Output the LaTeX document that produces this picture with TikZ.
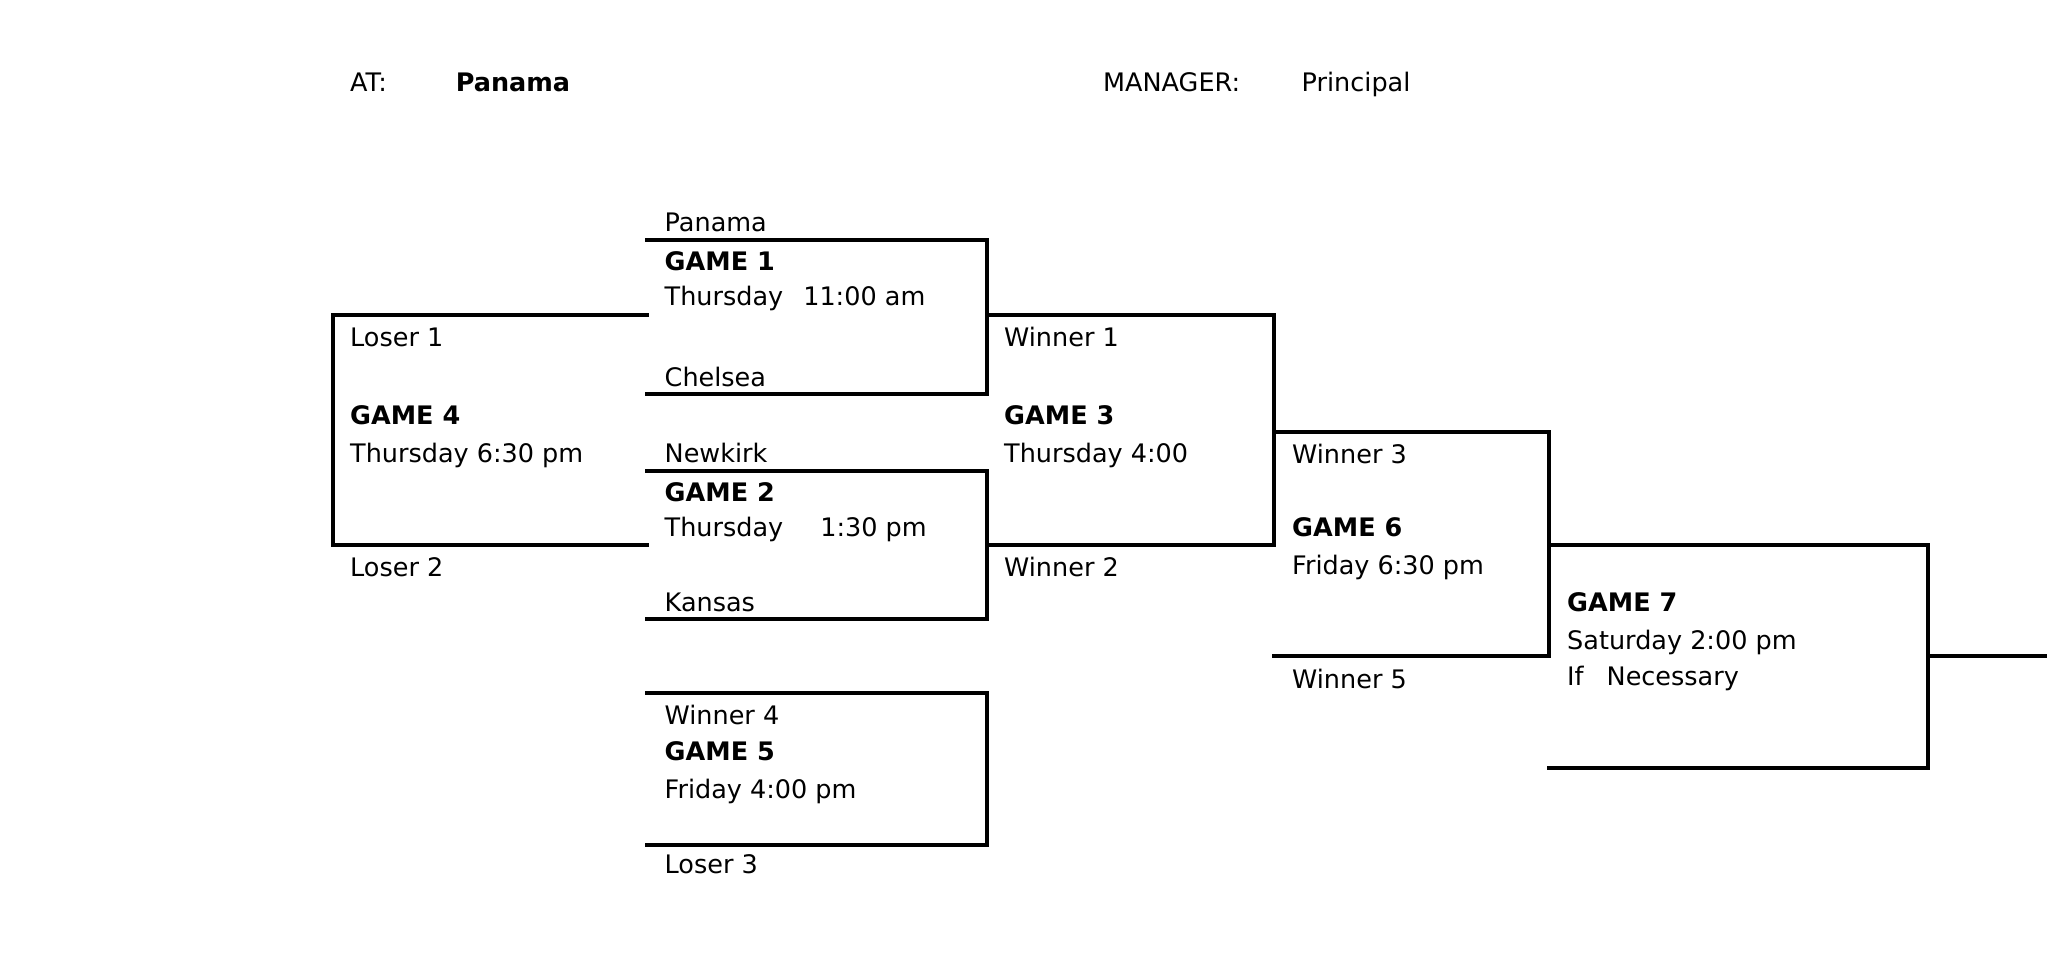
\documentclass[tikz,border=0pt]{standalone}
\usepackage{fontspec}
\setmainfont{DejaVu Sans}
\begin{document}
\begin{tikzpicture}[x=1pt,y=-1pt,
  lbl/.style={anchor=base west,inner sep=0pt,font=\fontsize{25.5}{30}\selectfont},
  ttl/.style={lbl,font=\fontsize{25.5}{30}\selectfont\bfseries},
  bracket/.style={line width=3.8pt,line join=miter,line cap=rect}]
\useasboundingbox (0,0) rectangle (2047,959);
% header
\node[lbl] (at) at (350,91) {AT:};
\node[ttl] (atv) at (455.6,91) {Panama};
\node[lbl] (mgr) at (1103,91) {MANAGER:};
\node[lbl] (mgrv) at (1301.5,91) {Principal};
% bracket corners
\coordinate (g1tl) at (647,240); \coordinate (g1tr) at (987,240);
\coordinate (g1bl) at (647,394); \coordinate (g1br) at (987,394);
\coordinate (g2tl) at (647,471); \coordinate (g2tr) at (987,471);
\coordinate (g2bl) at (647,619); \coordinate (g2br) at (987,619);
\coordinate (g4tr) at (647,315); \coordinate (g4tl) at (333,315);
\coordinate (g4bl) at (333,545); \coordinate (g4br) at (647,545);
\coordinate (g3tl) at (987,315); \coordinate (g3tr) at (1274,315);
\coordinate (g3bl) at (987,545); \coordinate (g3br) at (1274,545);
\coordinate (g6tl) at (1274,432); \coordinate (g6tr) at (1549,432);
\coordinate (g6bl) at (1274,656); \coordinate (g6br) at (1549,656);
\coordinate (g7tl) at (1549,545); \coordinate (g7tr) at (1928,545);
\coordinate (g7bl) at (1549,768); \coordinate (g7br) at (1928,768);
\coordinate (g7o) at (1928,656); \coordinate (out) at (2047,656);
\coordinate (g5tl) at (647,693); \coordinate (g5tr) at (987,693);
\coordinate (g5bl) at (647,845); \coordinate (g5br) at (987,845);
\draw[bracket] (g1tl) -- (g1tr) -- (g1br) -- (g1bl);
\draw[bracket] (g2tl) -- (g2tr) -- (g2br) -- (g2bl);
\draw[bracket] (g4tr) -- (g4tl) -- (g4bl) -- (g4br);
\draw[bracket] (g3tl) -- (g3tr) -- (g3br) -- (g3bl);
\draw[bracket] (g6tl) -- (g6tr) -- (g6br) -- (g6bl);
\draw[bracket] (g7tl) -- (g7tr) -- (g7br) -- (g7bl);
\draw[bracket] (g7o) -- (out);
\draw[bracket] (g5tl) -- (g5tr) -- (g5br) -- (g5bl);
% game 1
\node[lbl] (t1) at (664.5,231) {Panama};
\node[ttl] (g1) at (664.5,270) {GAME 1};
\node[lbl] (d1) at (664.5,305) {Thursday\hspace{20pt}11:00 am};
\node[lbl] (t2) at (664.5,386) {Chelsea};
% game 2
\node[lbl] (t3) at (664.5,462) {Newkirk};
\node[ttl] (g2) at (664.5,501) {GAME 2};
\node[lbl] (d2) at (664.5,536) {Thursday\hspace{37pt}1:30 pm};
\node[lbl] (t4) at (664.5,611) {Kansas};
% game 4
\node[lbl] (l1) at (350,346) {Loser 1};
\node[ttl] (g4) at (350,424) {GAME 4};
\node[lbl] (d4) at (350,462) {Thursday 6:30 pm};
\node[lbl] (l2) at (350,576) {Loser 2};
% game 3
\node[lbl] (w1) at (1004,346) {Winner 1};
\node[ttl] (g3) at (1004,424) {GAME 3};
\node[lbl] (d3) at (1004,462) {Thursday 4:00};
\node[lbl] (w2) at (1004,576) {Winner 2};
% game 6
\node[lbl] (w3) at (1292,463) {Winner 3};
\node[ttl] (g6) at (1292,536) {GAME 6};
\node[lbl] (d6) at (1292,574) {Friday 6:30 pm};
\node[lbl] (w5) at (1292,688) {Winner 5};
% game 7
\node[ttl] (g7) at (1567,611) {GAME 7};
\node[lbl] (d7) at (1567,649) {Saturday 2:00 pm};
\node[lbl] (n7) at (1567,685) {If\hspace{23pt}Necessary};
% game 5
\node[lbl] (w4) at (664.5,724) {Winner 4};
\node[ttl] (g5) at (664.5,760) {GAME 5};
\node[lbl] (d5) at (664.5,798) {Friday 4:00 pm};
\node[lbl] (l3) at (664.5,873) {Loser 3};
\end{tikzpicture}
\end{document}
